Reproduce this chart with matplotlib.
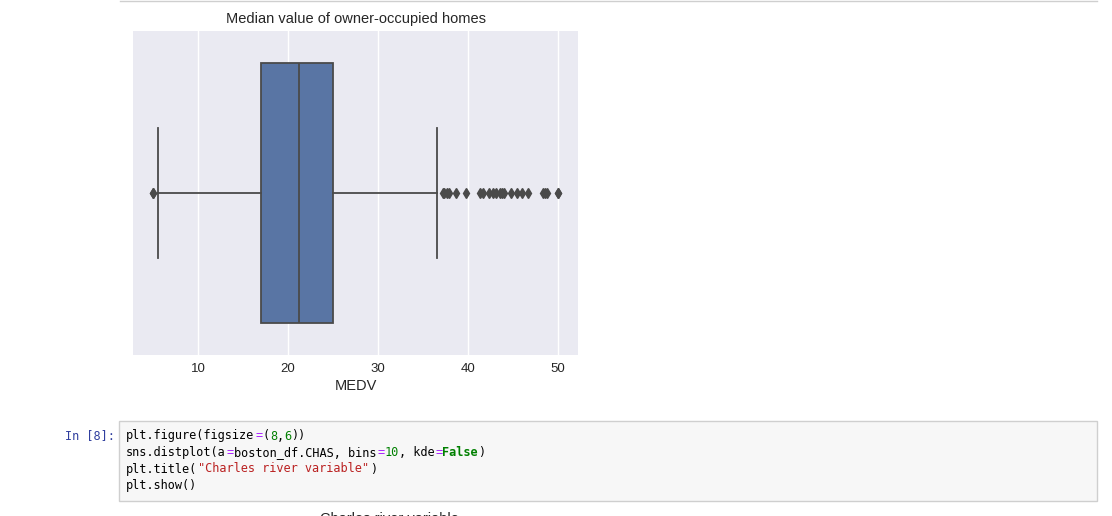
import matplotlib
matplotlib.use("Agg")
import matplotlib.pyplot as plt
from matplotlib.patches import Rectangle

plt.rcParams['font.family'] = ['Liberation Sans', 'DejaVu Sans']

# data (MEDV boxplot stats)
q1, med, q3 = 17.02, 21.2, 25.0
whislo, whishi = 5.6, 36.5
fliers = [5.0, 5.0, 37.2, 37.3, 37.6, 37.9, 38.7, 39.8, 41.3, 41.7, 42.3, 42.8, 43.1,
          43.5, 43.8, 44.0, 44.8, 45.4, 46.0, 46.7, 48.3, 48.5, 48.8, 50.0, 50.0]
xticks = [10, 20, 30, 40, 50]

W, H = 1112, 516
fig = plt.figure(figsize=(W/100, H/100), dpi=100)
fig.patch.set_facecolor("white")

def fx(px): return px / W
def fy(py): return 1 - py / H

ax = fig.add_axes([fx(133), fy(355), fx(578) - fx(133), fy(31) - fy(355)])
ax.set_facecolor("#eaeaf2")
for s in ax.spines.values():
    s.set_visible(False)
ax.grid(axis="x", color="white", lw=1)
ax.set_axisbelow(True)
gray = "#4a4a4a"
stats = [dict(med=med, q1=q1, q3=q3, whislo=whislo, whishi=whishi, fliers=fliers)]
ax.bxp(stats, positions=[0], widths=0.8, vert=False, patch_artist=True,
       boxprops=dict(facecolor="#5975a4", edgecolor=gray, lw=1.3),
       medianprops=dict(color=gray, lw=1.3),
       whiskerprops=dict(color=gray, lw=1.3),
       capprops=dict(color=gray, lw=1.3),
       flierprops=dict(marker="d", markerfacecolor=gray, markeredgecolor=gray, markersize=5))
ax.set_xlim(2.78, 52.2)
ax.set_ylim(0.5, -0.5)
ax.set_yticks([])
ax.set_xticks(xticks)
ax.tick_params(axis="x", length=0, labelsize=9.5, colors="#262626", pad=6)
ax.set_xlabel("MEDV", fontsize=10.5, color="#262626", labelpad=3)
ax.set_title("Median value of owner-occupied homes", fontsize=10.5, color="#262626", pad=6)

# notebook chrome
fig.add_artist(plt.Line2D([fx(120), fx(1097)], [fy(0.5), fy(0.5)], color="#cfcfcf", lw=1))
fig.add_artist(Rectangle((fx(119), fy(501)), fx(1097) - fx(119), fy(421) - fy(501),
                         transform=fig.transFigure, facecolor="#f7f7f7", edgecolor="#cfcfcf", lw=1))
fig.text(fx(65), fy(436), "In [8]:", fontsize=8.6, family="DejaVu Sans Mono", color="#303F9F", va="center")

K, G, R, D = "#AA22FF", "#008000", "#BA2121", "#000000"
lines = [
    [("plt.figure(figsize", D), ("=", K), ("(", D), ("8", G), (",", D), ("6", G), ("))", D)],
    [("sns.distplot(a", D), ("=", K), ("boston_df.CHAS, bins", D), ("=", K), ("10", G),
     (", kde", D), ("=", K), ("False", "bold"), (")", D)],
    [("plt.title(", D), ('"Charles river variable"', R), (")", D)],
    [("plt.show()", D)],
]
fs = 8.6
cw = 0.602 * fs / 0.72
for i, toks in enumerate(lines):
    col = 0
    y = 436 + i * 16.5
    for t, c in toks:
        kw = dict(fontsize=fs, family="DejaVu Sans Mono", va="center")
        if c == "bold":
            kw.update(color=G, fontweight="bold")
        else:
            kw.update(color=c)
        fig.text(fx(126 + col * cw), fy(y), t, **kw)
        col += len(t)

fig.text(fx(320), fy(519), "Charles river variable", fontsize=10.5, color="#262626", va="center")
fig.savefig("out.png", dpi=100)
